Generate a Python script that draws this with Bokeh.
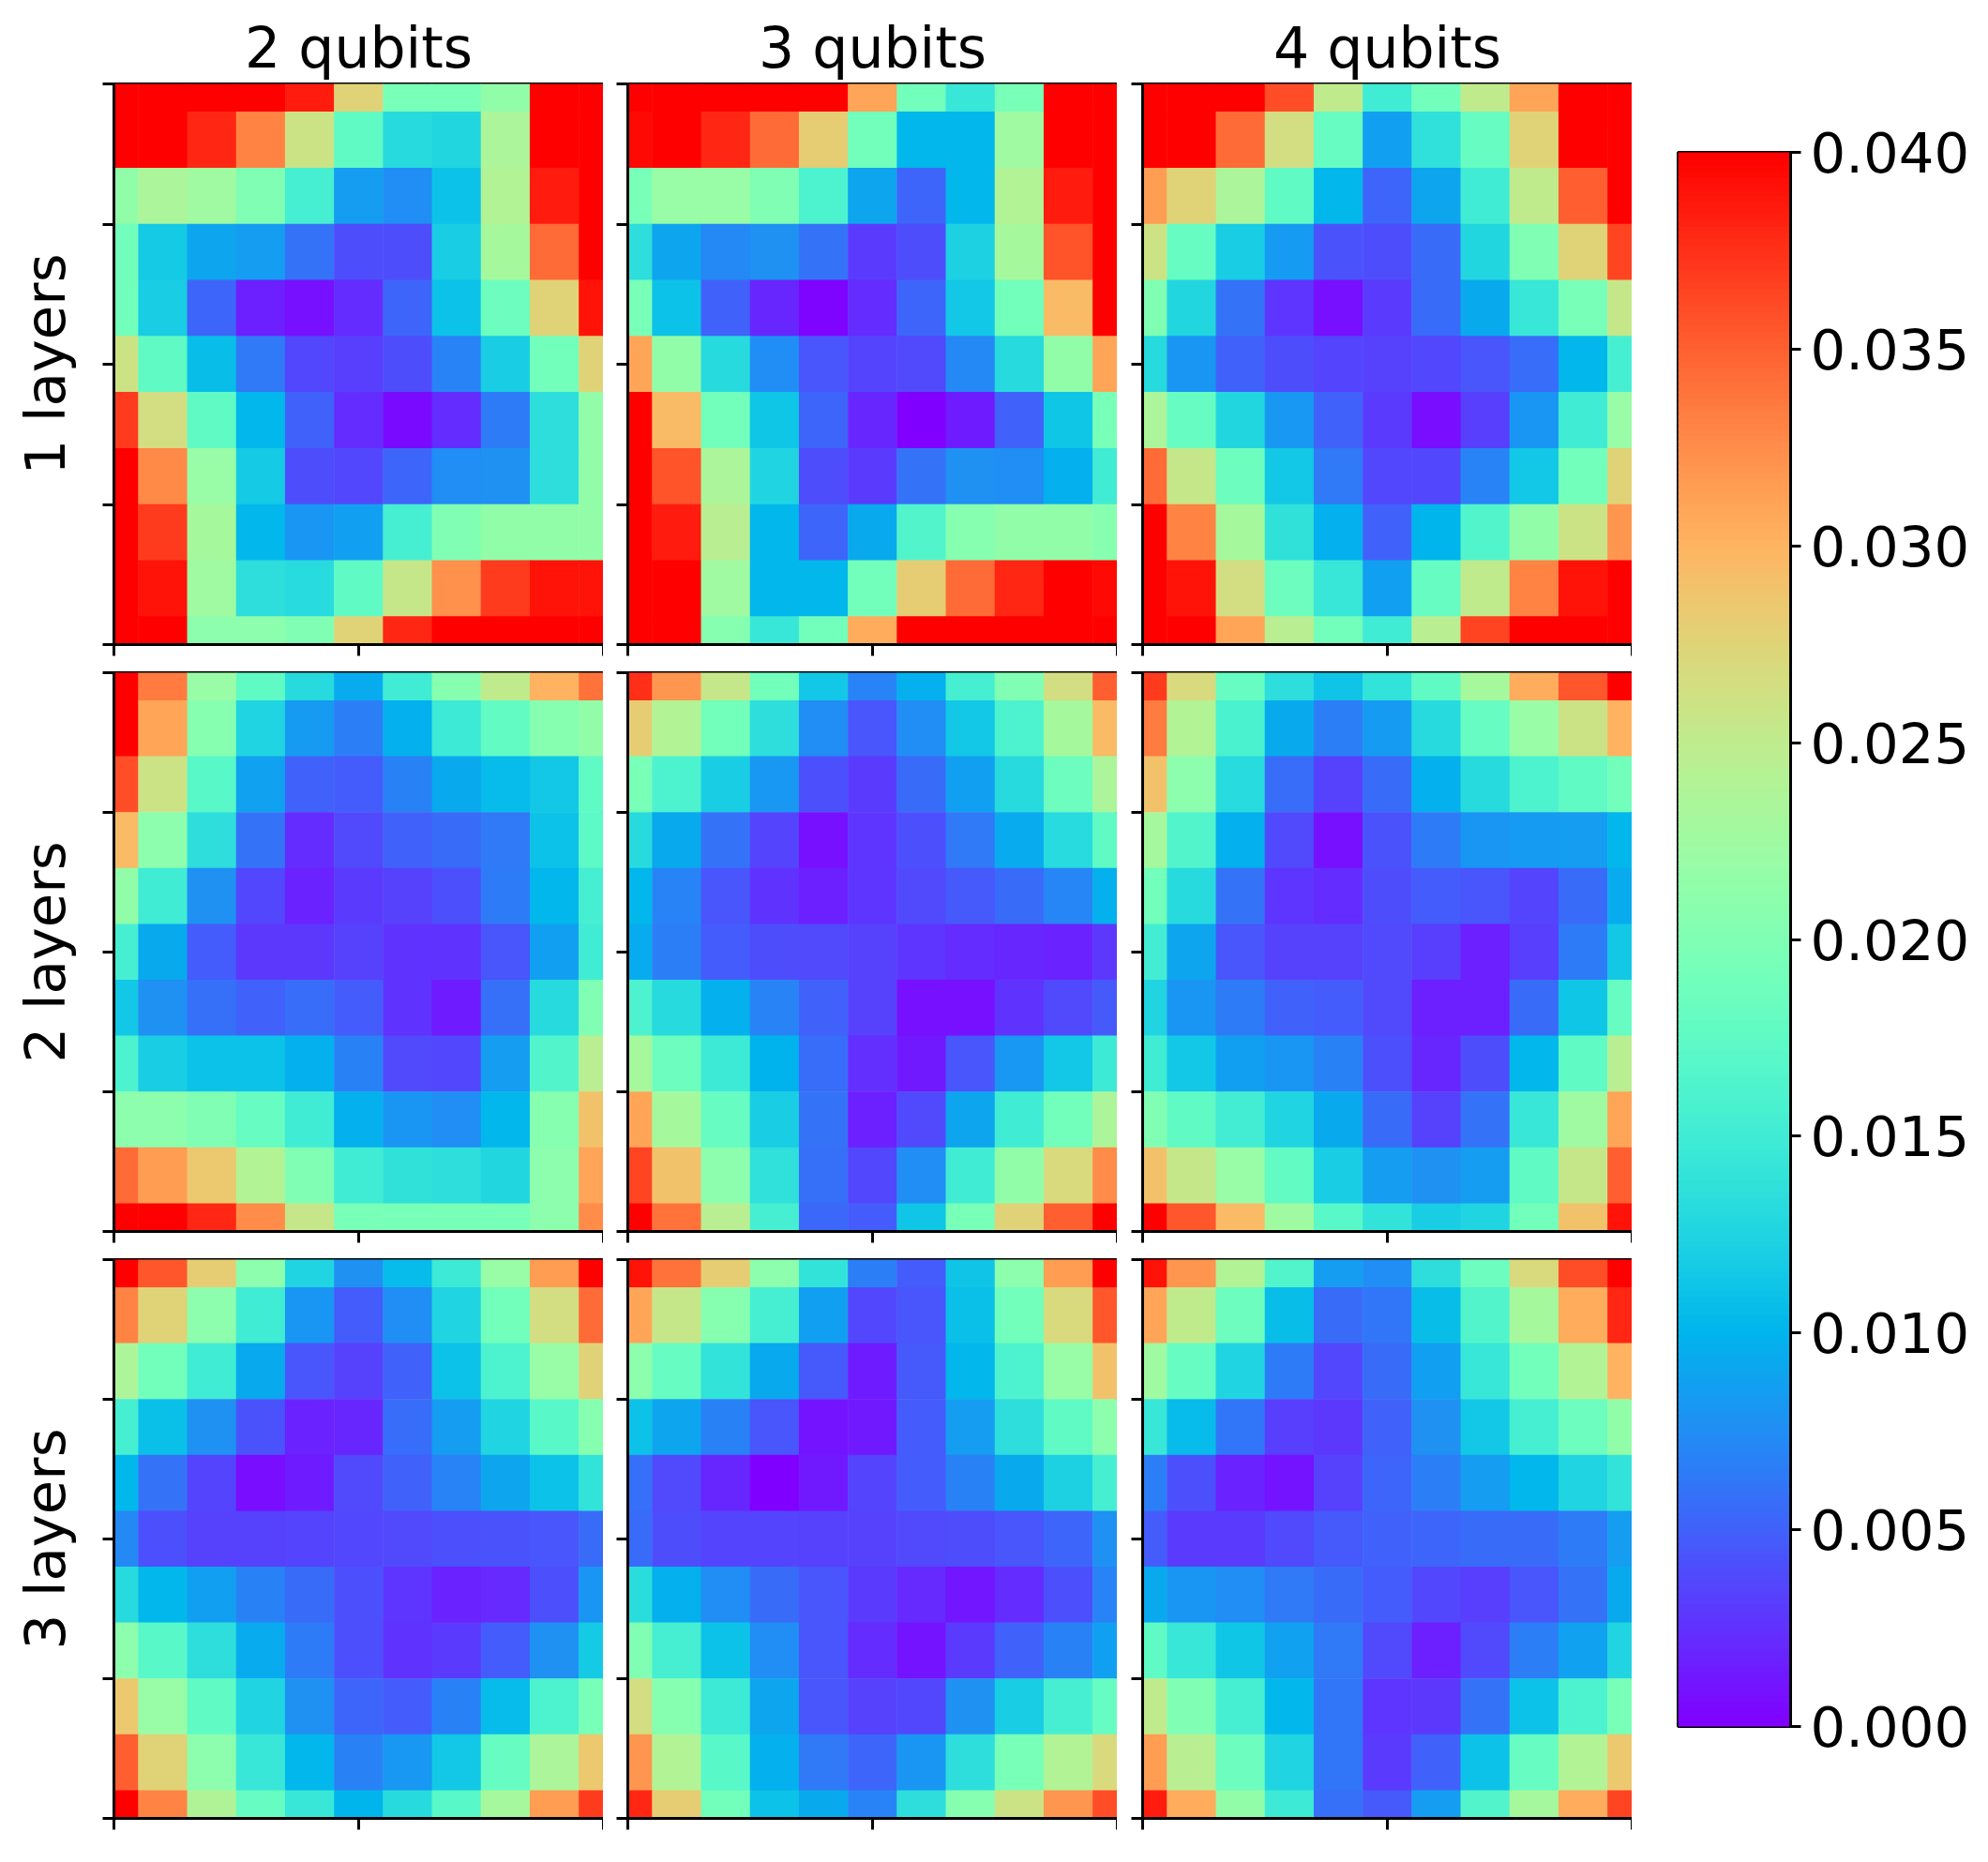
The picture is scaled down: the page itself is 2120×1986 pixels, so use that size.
import numpy as np
from bokeh.embed import file_html
from bokeh.layouts import column, row
from bokeh.models import ColumnDataSource, CustomJSTickFormatter, FixedTicker, LinearColorMapper, NumeralTickFormatter
from bokeh.plotting import figure
from bokeh.resources import INLINE

qubit_titles = ['2 qubits', '3 qubits', '4 qubits']
layer_labels = ['1 layers', '2 layers', '3 layers']
cbar_ticks = [0.0, 0.005, 0.01, 0.015, 0.02, 0.025, 0.03, 0.035, 0.04]

# cell values, in units of 0.001
l1_q2 = [
    [40, 40, 40, 40, 38.5, 27.5, 19.5, 19.5, 21.5, 40, 40],
    [40, 40, 38, 33, 26, 17.5, 13, 12.7, 23.5, 40, 40],
    [21.5, 23.5, 22.5, 20, 15.5, 8.5, 7.5, 11, 24, 38.5, 40],
    [19, 11.7, 9, 8.5, 6, 4, 4, 12, 23, 34.5, 40],
    [19, 12, 5.3, 1.7, 0.8, 2.2, 5.3, 11, 18.5, 27.5, 39],
    [26, 17.5, 10.7, 6.3, 3.7, 3.2, 4, 7, 12, 19, 27.5],
    [37, 26.5, 17.5, 10.3, 5, 2.2, 0.5, 2.2, 6.5, 13.5, 21.5],
    [40, 32.7, 22, 11.7, 4, 3.7, 5.2, 7.5, 7.8, 13.5, 21.5],
    [40, 37, 23, 10.3, 8, 8.7, 15.5, 20, 21.5, 21.5, 21.5],
    [40, 39, 22.5, 13.5, 13.2, 17.5, 25.5, 32.3, 37, 39, 39],
    [40, 40, 21, 21, 20, 27.5, 38, 40, 40, 40, 40],
]
l1_q3 = [
    [40, 40, 40, 40, 40, 31, 19, 14.5, 19.5, 40, 40],
    [39.5, 40, 38, 34.5, 28, 19, 10.2, 10.2, 22.5, 40, 40],
    [19.5, 22, 22, 20, 16, 9, 5.3, 10.2, 24, 38.5, 40],
    [13.5, 9, 7.3, 7.8, 6, 3, 4, 12.2, 23, 35.7, 40],
    [19.5, 11, 5, 2, 0.2, 2.3, 5.3, 11.5, 19, 29.5, 40],
    [31, 21.5, 13, 7.5, 4.5, 3.5, 3.8, 7.2, 13, 21.5, 31],
    [40, 29.5, 19, 11.3, 5.3, 2, 0, 1.5, 5, 11.3, 19.5],
    [40, 35.7, 23.5, 12.5, 4, 3, 6, 7.8, 7.5, 9.7, 15],
    [40, 38.5, 24.5, 10.3, 5.2, 9.3, 16.5, 20.5, 21.5, 21.5, 20.5],
    [40, 40, 22.5, 10.2, 10.2, 19, 28, 34.5, 38, 40, 39.5],
    [40, 40, 20.5, 14.5, 19, 30.5, 40, 40, 40, 40, 40],
]
l1_q4 = [
    [40, 40, 40, 36, 25, 15, 19, 25, 31, 40, 40],
    [40, 40, 34.5, 26.5, 18, 8.7, 13.7, 18, 27.5, 40, 40],
    [31.5, 27.5, 23.5, 17.5, 10.3, 5.2, 9, 15, 25, 35, 40],
    [26, 18, 12, 8.3, 4.3, 4, 5.5, 12.7, 20, 27.5, 36.5],
    [20, 12.7, 6, 2.7, 0.8, 3, 5.5, 9.3, 14.5, 19.5, 25.5],
    [13, 8, 5, 4, 3.5, 3.3, 3.7, 4.5, 5.7, 10.3, 15.5],
    [23.5, 18, 12.7, 8.2, 5, 3.1, 0.7, 3.2, 8, 15, 22],
    [34.5, 25.5, 18.5, 11.5, 6.3, 3.7, 3.7, 7, 11.5, 19, 27.5],
    [40, 33, 23, 13.8, 9.7, 5, 10, 16.5, 21.5, 26, 32],
    [40, 39, 26.5, 18.5, 14.5, 8.7, 18, 25, 33, 39, 40],
    [40, 40, 31, 24.5, 19, 15, 24.5, 36.5, 40, 40, 40],
]
l2_q2 = [
    [40, 33.5, 22, 17.5, 13, 9.5, 15, 20.5, 25, 30, 34],
    [40, 31, 20.5, 12.5, 8.3, 6.7, 9.8, 14.8, 17.7, 20.5, 21.5],
    [36, 26, 17, 8.8, 5, 4.7, 6.8, 9.3, 10.5, 11.5, 17.5],
    [29.5, 21, 13.5, 6, 2.2, 3.8, 5, 5.6, 6.3, 11, 17.3],
    [21.5, 15, 7.8, 3.6, 1.8, 3.1, 3.3, 4.2, 6.5, 10.2, 15.5],
    [15.5, 9.3, 4.7, 2.9, 2.9, 3.3, 2.6, 2.6, 4.5, 8.7, 15],
    [11.5, 7.7, 5.9, 5, 5.7, 4.8, 2.6, 1.5, 5.9, 13, 20],
    [16, 12, 11, 11, 9.7, 6.8, 3.8, 3.7, 8.5, 16.5, 24.5],
    [21, 21, 20, 18, 15, 9.7, 8, 7.5, 10.2, 20.5, 29],
    [34.5, 31.5, 28.5, 24, 20, 15, 13.8, 13.5, 12.7, 21, 31],
    [40, 40, 38, 32.5, 25.5, 19.5, 19.5, 19.5, 19.5, 21, 32.5],
]
l2_q3 = [
    [37.5, 32, 25.5, 19, 11.5, 7, 9.7, 15.5, 20, 26.5, 35],
    [28, 24, 19, 13.5, 7.5, 4.5, 7.5, 11.5, 16, 23, 29.5],
    [19.5, 16, 12, 8.2, 4.2, 3.1, 5.6, 8.7, 13, 18.5, 23.5],
    [13, 9.3, 6, 3.5, 0.8, 2.7, 4.1, 6.3, 9.5, 13.2, 17.5],
    [10.2, 7, 4.4, 2.6, 1.7, 2.8, 3.8, 4.6, 5.6, 7.1, 9.8],
    [9.5, 6.7, 4.7, 4, 3.8, 3.4, 2.7, 2.2, 1.9, 1.8, 2.9],
    [16, 13, 9.7, 7, 5, 3.3, 0.8, 0.8, 2.5, 3.8, 4.6],
    [23, 18.5, 14.8, 9.9, 5.7, 2.4, 1.4, 4.5, 8.2, 11.5, 14.8],
    [31, 23, 18, 12, 6, 1.6, 3.9, 9, 15, 19, 23.5],
    [36.5, 29, 21, 13.6, 5.8, 3.6, 7.5, 15, 21.5, 27, 32.5],
    [40, 34, 24.5, 15.5, 5.4, 4.7, 11.3, 19.5, 27.5, 35, 40],
]
l2_q4 = [
    [37, 27, 18, 13.5, 11.2, 14, 17.5, 23, 30.5, 35.5, 40],
    [33.5, 24, 15.8, 9.3, 6.7, 8.3, 13, 18, 22, 26, 30],
    [29, 21, 13.2, 5.7, 3.4, 5.5, 9.7, 13, 16, 17.5, 19],
    [23, 16.5, 9.7, 3.9, 0.8, 4.3, 6.5, 8, 8.3, 8.5, 10.2],
    [19, 13, 6, 2.7, 2.2, 4, 4.7, 4.4, 3.5, 5.5, 9.5],
    [15.3, 9, 4.5, 3.4, 3.4, 3.8, 3.2, 1.6, 3.2, 6.5, 11.5],
    [12.5, 8, 6.5, 5, 4.7, 3.8, 1.6, 1.6, 5.6, 11.3, 18],
    [15, 11.5, 8.7, 8, 6.8, 4.2, 1.9, 4, 10.3, 17.5, 24.5],
    [20, 17.5, 15.3, 12.5, 9.3, 5.5, 3.4, 6, 14.5, 22.5, 31],
    [29, 25.5, 22, 17.8, 12, 8.5, 7.8, 8.5, 17.5, 25.5, 35],
    [40, 35.5, 29.5, 22.5, 17, 14, 12, 12.5, 19, 29, 39],
]
l3_q2 = [
    [40, 35.5, 28, 21, 12.5, 7.7, 10.5, 14.7, 22, 31.5, 40],
    [33, 27.5, 21, 15, 8, 4.8, 7.5, 12.5, 19, 26.5, 34.5],
    [23.5, 19, 15, 9.3, 4.5, 3.4, 5, 11, 16, 22, 27.5],
    [15.5, 10.8, 7.7, 4.3, 1.8, 2, 5.7, 8.5, 12.5, 17, 20.5],
    [10.2, 6, 3.5, 0.7, 1.5, 3.8, 5, 7, 9, 11, 14],
    [7.2, 4.2, 3.4, 3.4, 3.5, 3.7, 3.9, 4.1, 4.3, 4.5, 5.5],
    [13, 10.2, 8.7, 6.8, 5.5, 4.1, 2.7, 1.8, 2.1, 4.2, 8],
    [21, 17, 13.5, 9.5, 6.5, 4.1, 2.6, 3, 4.8, 7.8, 11.7],
    [28.5, 22, 17.5, 12.5, 7.7, 5.2, 4.8, 6.8, 10.5, 16, 19.5],
    [35, 27.5, 21, 14.5, 10.2, 6.8, 8.2, 11.5, 18, 23.5, 28.5],
    [40, 33, 23.8, 18, 14.5, 10, 13, 17, 23, 31.5, 37],
]
l3_q3 = [
    [39, 34, 28, 21, 14, 6.7, 4.8, 11.2, 21, 31.5, 40],
    [31, 25.5, 20.5, 15.5, 8.7, 3.6, 4.4, 10.8, 19, 27, 35.5],
    [21, 18, 14, 9.3, 4.6, 1.5, 4.6, 10.3, 16, 22, 29],
    [11, 9, 6.8, 4.4, 1, 1.4, 4.7, 8.5, 13.5, 17.5, 21],
    [5.9, 3.8, 2, 0.1, 1.3, 3.5, 4.7, 6.8, 9.3, 12.3, 15.5],
    [5.5, 4, 3.5, 3.5, 3.3, 3.4, 3.8, 4, 4.5, 5.2, 7.8],
    [13.3, 9.7, 7.5, 5.5, 4.4, 3.1, 2.1, 1.1, 2.2, 4.2, 7],
    [20, 15.5, 11, 7.5, 4.5, 2.2, 1, 3.1, 5, 6.8, 8.7],
    [26.5, 20.5, 14.7, 9, 4.5, 3.3, 3.6, 7.7, 12, 15.5, 18],
    [32, 24, 17, 9.7, 6.3, 5.2, 8, 13.5, 19.5, 24, 27],
    [38, 28, 19, 11, 9.3, 7, 13.5, 20.5, 26, 32, 36],
]
l3_q4 = [
    [39, 32, 24, 16.5, 8.5, 7.5, 13.5, 18.5, 27, 36, 40],
    [31, 25, 18.5, 10.7, 5.5, 6.2, 10.7, 16.5, 23, 30.5, 38],
    [22.5, 18, 12.5, 6.5, 3.7, 5.5, 8.7, 14.5, 19, 24, 30],
    [14.5, 10.5, 6.2, 3.2, 2.9, 5, 7.7, 11.5, 15.5, 18.5, 21.5],
    [6.7, 4.2, 1.8, 1, 3.4, 5.3, 6.6, 8.5, 10.2, 12.5, 14],
    [4.7, 3.1, 3.1, 3.9, 4.6, 5.1, 5.3, 5.5, 5.5, 6.5, 8.5],
    [9.3, 8, 7.5, 6.3, 5.5, 4.7, 3.7, 3.2, 4.4, 6, 9.3],
    [17.5, 14.5, 11.3, 8.9, 6.3, 3.8, 1.6, 3.9, 6.6, 8.8, 12.5],
    [25, 20, 15.5, 10.3, 6.2, 2.8, 2.9, 6, 11, 16, 19.5],
    [31.5, 24.5, 18.5, 12.5, 6.1, 3.1, 5, 11, 18, 24, 28.5],
    [38.5, 30.5, 21.5, 14.8, 5.9, 4.6, 8.5, 16.5, 23, 30.5, 36.5],
]

grids = [[l1_q2, l1_q3, l1_q4],
         [l2_q2, l2_q3, l2_q4],
         [l3_q2, l3_q3, l3_q4]]

FONT = 'DejaVu Sans'
FONT_SIZE = '59.3px'


def rainbow_palette(n=256):
    t = np.linspace(0, 1, n)
    r = np.abs(2 * t - 0.5)
    g = np.sin(np.pi * t)
    b = np.cos(np.pi * t / 2)
    return ['#%02x%02x%02x' % (round(x * 255), round(y * 255), round(z * 255))
            for x, y, z in zip(np.clip(r, 0, 1), g, b)]


palette = rainbow_palette()
mapper = LinearColorMapper(palette=palette, low=0, high=0.04)
blank = CustomJSTickFormatter(code="return ''")


def style_axis(ax, ticks):
    ax.ticker = FixedTicker(ticks=ticks)
    ax.formatter = blank
    ax.major_label_standoff = 0
    ax.major_tick_in = 0
    ax.major_tick_out = 12
    ax.major_tick_line_width = 3
    ax.major_tick_line_color = 'black'
    ax.minor_tick_line_color = None
    ax.axis_line_width = 3
    ax.axis_line_color = 'black'


def make_panel(values, i, j):
    left = [121, 26, 27][j]
    p = figure(frame_width=522, frame_height=[598, 596, 596][i],
               x_range=(0, 10), y_range=(10, 0),
               output_backend="svg", toolbar_location=None,
               min_border_left=left, min_border_right=0,
               min_border_top=89 if i == 0 else 16, min_border_bottom=14)
    rows, cols = np.mgrid[0:11, 0:11]
    source = ColumnDataSource(dict(x=cols.ravel(), y=rows.ravel(),
                                   value=np.array(values).ravel() * 0.001))
    color = {'field': 'value', 'transform': mapper}
    # slight overlap so no white seams show between neighbouring cells
    p.rect('x', 'y', width=1.01, height=1.01, source=source, fill_color=color, line_color=None)
    p.grid.visible = False
    p.outline_line_color = 'black'
    p.outline_line_width = 3
    p.outline_line_alpha = 1
    style_axis(p.xaxis[0], [0, 5, 10])
    style_axis(p.yaxis[0], [0, 2.5, 5, 7.5, 10])
    if i == 0:
        p.title.text = qubit_titles[j]
        p.title.align = 'center'
        p.title.text_font = FONT
        p.title.text_font_size = '60px'
        p.title.text_font_style = 'normal'
        p.title.text_color = 'black'
        p.title.standoff = 8
    if j == 0:
        p.yaxis[0].axis_label = layer_labels[i]
        p.yaxis[0].axis_label_text_font = FONT
        p.yaxis[0].axis_label_text_font_size = FONT_SIZE
        p.yaxis[0].axis_label_text_font_style = 'normal'
        p.yaxis[0].axis_label_text_color = 'black'
        p.yaxis[0].axis_label_standoff = 27
    return p


def make_colorbar():
    p = figure(frame_width=120, frame_height=1679,
               x_range=(0, 1), y_range=(0, 0.04),
               y_axis_location='right',
               output_backend="svg", toolbar_location=None,
               min_border_left=49, min_border_right=190,
               min_border_top=162, min_border_bottom=50)
    edges = np.linspace(0, 0.04, len(palette) + 1)
    centers = (edges[:-1] + edges[1:]) / 2
    p.rect(x=0.5, y=centers, width=1, height=(edges[1] - edges[0]) * 1.2,
           fill_color=palette, line_color=None)
    p.grid.visible = False
    p.xaxis.visible = False
    p.outline_line_color = 'black'
    p.outline_line_width = 3
    ax = p.yaxis[0]
    ax.ticker = FixedTicker(ticks=cbar_ticks)
    ax.formatter = NumeralTickFormatter(format='0.000')
    ax.major_label_text_font = FONT
    ax.major_label_text_font_size = FONT_SIZE
    ax.major_label_text_color = 'black'
    ax.major_label_standoff = 10
    ax.major_tick_in = 0
    ax.major_tick_out = 11
    ax.major_tick_line_width = 3
    ax.major_tick_line_color = 'black'
    ax.minor_tick_line_color = None
    ax.axis_line_color = 'black'
    ax.axis_line_width = 3
    return p


panels = column(*[row(*[make_panel(grids[i][j], i, j) for j in range(3)]) for i in range(3)])
layout = row(panels, make_colorbar())

open("out.html", "w").write(file_html(layout, INLINE))
